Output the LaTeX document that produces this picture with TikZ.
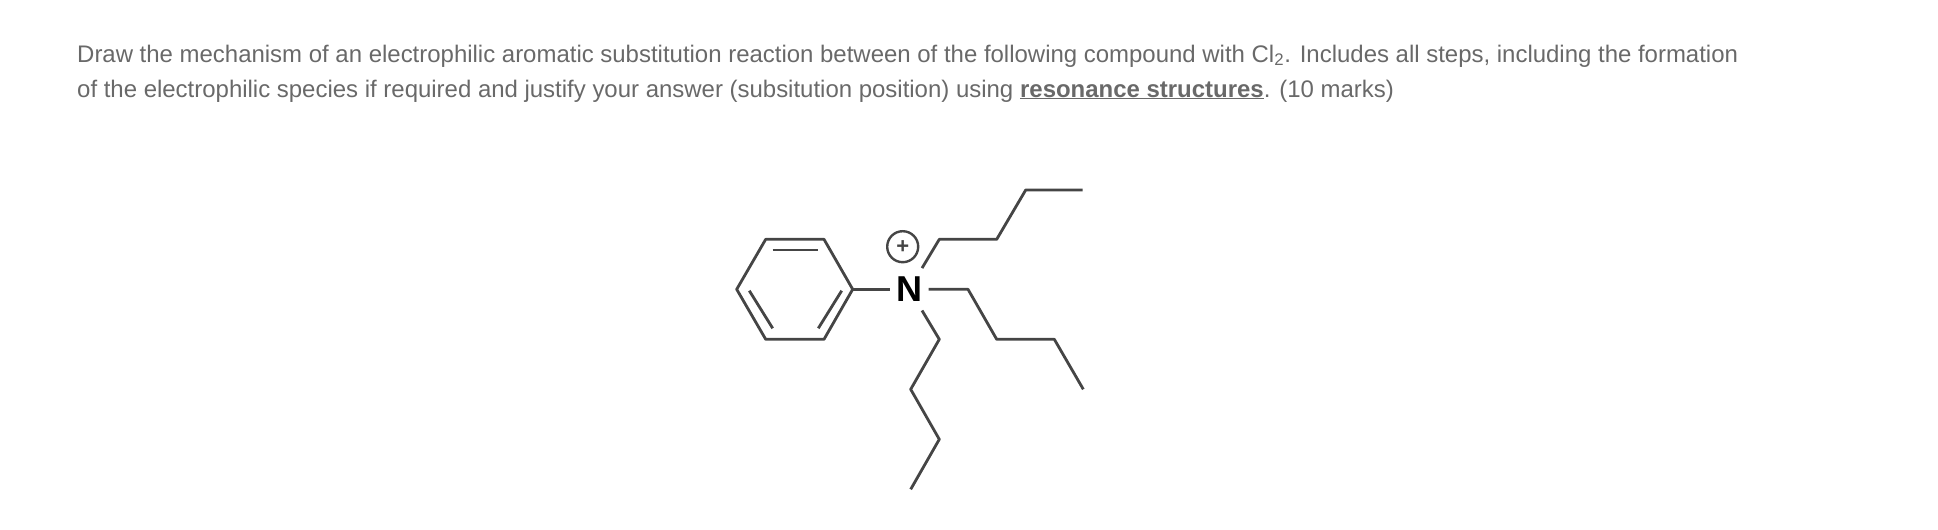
\documentclass[tikz,border=0pt]{standalone}
\usepackage{fontspec}
\setmainfont{Liberation Sans}
\definecolor{prompt}{HTML}{696969}
\definecolor{ink}{HTML}{454545}
\begin{document}
\begin{tikzpicture}[x=1pt, y=-1pt,
  prompt/.style={anchor=base west, inner sep=0, text=prompt, font=\fontsize{23.96}{28}\selectfont},
  atom/.style={inner sep=0, minimum width=38pt, minimum height=42pt, text=black, font=\fontsize{36}{40}\selectfont\bfseries},
  charge/.style={draw=ink, circle, line width=2.4pt, inner sep=0, minimum size=31pt, text=ink, font=\fontsize{22}{22}\selectfont\bfseries},
  bond/.style={draw=ink, line width=2.8pt, line join=round},
]
\useasboundingbox (0,0) rectangle (1938,530);

\node[prompt] (line1) at (77,62) {Draw the mechanism of an electrophilic aromatic substitution reaction between of the following compound with Cl\textsubscript{2}. Includes all steps, including the formation};
\node[prompt] (line2) at (77,97) {of the electrophilic species if required and justify your answer (subsitution position) using \underline{\textbf{resonance structures}}. (10 marks)};

\node[atom] (nitrogen) at (909.3,289.3) {N};
\node[charge] (plus) at (902.7,246.7) {+};

% ring
\coordinate (ring1) at (765.7,239.3);
\coordinate (ring2) at (824,239.3);
\coordinate (ring3) at (852.7,289.3);
\coordinate (ring4) at (824,339.3);
\coordinate (ring5) at (765.7,339.3);
\coordinate (ring6) at (736.7,289.3);
\coordinate (inner1) at (772.7,250);
\coordinate (inner2) at (817.7,250);
\coordinate (inner3) at (841.7,290.7);
\coordinate (inner4) at (818.3,328.3);
\coordinate (inner5) at (772.7,328.3);
\coordinate (inner6) at (749.3,290.7);

% chains
\coordinate (up1) at (939.3,239.3);
\coordinate (up2) at (996.7,239.3);
\coordinate (up3) at (1025.7,190);
\coordinate (up4) at (1082.7,190);
\coordinate (side1) at (968,289.3);
\coordinate (side2) at (996.7,339.3);
\coordinate (side3) at (1054.3,339.3);
\coordinate (side4) at (1083.3,389.3);
\coordinate (down1) at (939.3,339.3);
\coordinate (down2) at (910.7,389.3);
\coordinate (down3) at (939.3,439.3);
\coordinate (down4) at (910.7,489.3);

\draw[bond] (ring1) -- (ring2) -- (ring3) -- (ring4) -- (ring5) -- (ring6) -- cycle;
\draw[bond] (inner1) -- (inner2);
\draw[bond] (inner3) -- (inner4);
\draw[bond] (inner5) -- (inner6);
\draw[bond] (ring3) -- (nitrogen);
\draw[bond] (nitrogen) -- (up1) -- (up2) -- (up3) -- (up4);
\draw[bond] (nitrogen) -- (side1) -- (side2) -- (side3) -- (side4);
\draw[bond] (nitrogen) -- (down1) -- (down2) -- (down3) -- (down4);
\end{tikzpicture}
\end{document}
